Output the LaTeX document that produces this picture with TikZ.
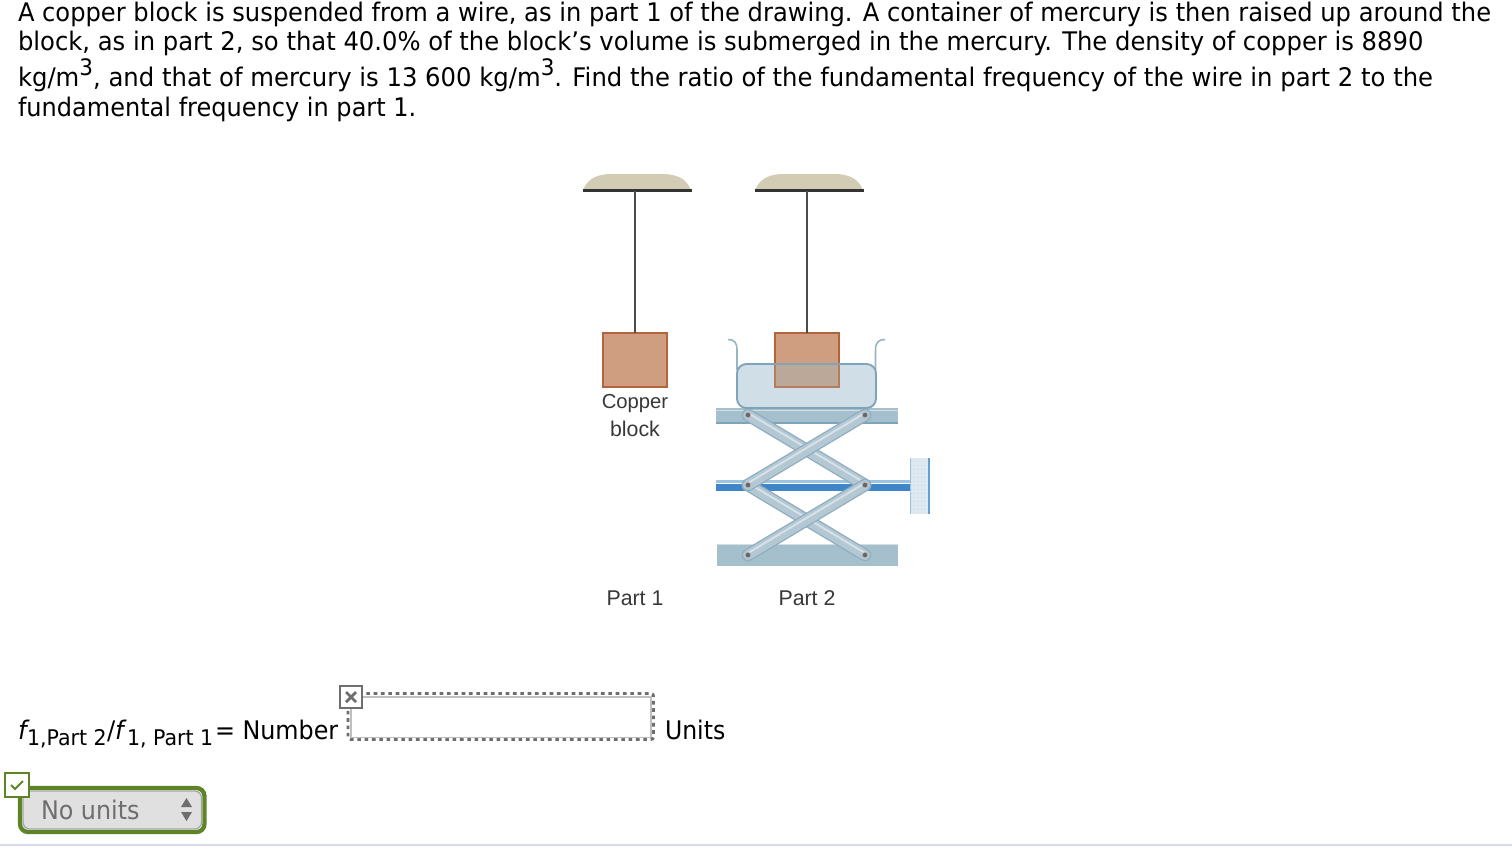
\documentclass[tikz,border=0pt]{standalone}
\usepackage{fontspec}
\usepackage{graphicx}
\setmainfont[FakeStretch=0.95]{DejaVu Sans}
\newfontfamily\labelfont{Liberation Sans}
\usetikzlibrary{calc}
\definecolor{ceil}{HTML}{D2CCB4}
\definecolor{copperfill}{HTML}{CF9E80}
\definecolor{copperedge}{HTML}{B4643C}
\definecolor{overlapfill}{HTML}{BCA898}
\definecolor{merc}{HTML}{D0DEE7}
\definecolor{mercedge}{HTML}{7FA3B8}
\definecolor{steel}{HTML}{A5BFCC}
\definecolor{steeldk}{HTML}{7FA3B8}
\definecolor{armedge}{HTML}{8FAEC0}
\definecolor{armfill}{HTML}{B4C8D4}
\definecolor{bluebar}{HTML}{3F86C8}
\definecolor{bluelt}{HTML}{9CC4E4}
\definecolor{wallfill}{HTML}{DFE8EE}
\definecolor{olive}{HTML}{5F8428}
\definecolor{uigray}{HTML}{6E6E6E}
\definecolor{rulecol}{HTML}{D3DCE5}
\tikzset{
  x=0.75pt,y=-0.75pt,
  prose/.style={anchor=base west,inner sep=0pt,outer sep=0pt,font=\fontsize{19.2pt}{23pt}\selectfont,text=black},
  subs/.style={prose,font=\fontsize{16.2pt}{18pt}\selectfont},
  figlabel/.style={anchor=base,inner sep=0pt,font=\labelfont\fontsize{16pt}{20pt}\selectfont,text=black!78},
  wire/.style={draw=black!70,line width=1.9pt},
  plate/.style={draw=black!80,line width=1.8pt},
  arm/.style={line cap=round,line width=9.5pt,draw=armedge},
  armin/.style={line cap=round,line width=7.5pt,draw=armfill},
  armhi/.style={line cap=round,line width=1.5pt,draw=white!45!armfill},
  pivot/.style={circle,fill=black!60,draw=white!70!black,line width=0.4pt,inner sep=0pt,minimum size=4pt},
  blockbox/.style={draw=copperedge,fill=copperfill,line width=1.3pt,minimum width=48pt,minimum height=40.5pt,inner sep=0pt,outer sep=0pt,anchor=north west},
}
\newcommand{\ceilingat}[1]{%
  \fill[ceil] (#1-54,190) .. controls (#1-50,181) and (#1-44,175) .. (#1-28,174)
     -- (#1+28,174) .. controls (#1+44,175) and (#1+50,181) .. (#1+54,190) -- cycle;
  \draw[plate] (#1-54.5,190.5) -- (#1+54.5,190.5);}
\newcommand{\supthree}{\raisebox{0.42em}{\fontsize{17pt}{18pt}\selectfont 3}}
\begin{document}
\begin{tikzpicture}
\useasboundingbox (0,0) rectangle (1512,858);
\fill[white] (0,0) rectangle (1512,858);
% problem text
\node[prose] (l1) at (18,21) {\scalebox{0.994}[1]{A copper block is suspended from a wire, as in part 1 of the drawing. A container of mercury is then raised up around the}};
\node[prose] (l2) at (18,50) {\scalebox{0.998}[1]{block, as in part 2, so that 40.0\% of the block’s volume is submerged in the mercury. The density of copper is 8890}};
\node[prose] (l3) at (18,86) {kg/m\supthree, and that of mercury is 13 600 kg/m\supthree. Find the ratio of the fundamental frequency of the wire in part 2 to the};
\node[prose] (l4) at (18,116) {\scalebox{0.988}[1]{fundamental frequency in part 1.}};
% ceilings and wires
\ceilingat{637}
\ceilingat{809}
\coordinate (c1) at (635,191);
\coordinate (c2) at (807,191);
% part 1 block
\node[blockbox] (b1) at (603,333) {};
\draw[wire] (c1) -- (b1.north);
% part 2: platforms
\fill[steel] (716,408) rectangle (898,423.5);
\draw[steeldk,line width=1.2pt] (716,423) -- (898,423);
\draw[white!50!steel,line width=1pt] (716,410.5) -- (898,410.5);
\fill[steel] (717,544) rectangle (898,566);
\draw[white!50!steel,line width=1pt] (717,544.5) -- (898,544.5);
% blue bar
\fill[bluelt] (716,480) rectangle (911,482.5);
\fill[bluebar] (716,484) rectangle (911,491);
% wall
\fill[wallfill] (910,458) rectangle (929,514);
\foreach \yy in {461,465,...,512}{\draw[bluelt!60!white,line width=0.5pt,dotted] (911,\yy) -- (928,\yy);}
\draw[bluebar!80!white,line width=1.5pt] (929,458) -- (929,514);
\draw[bluelt,line width=0.8pt] (910.5,458) -- (910.5,514);
% scissors
\coordinate (tl) at (748,415);
\coordinate (tr) at (865,415);
\coordinate (ml) at (748,485);
\coordinate (mr) at (865,485);
\coordinate (bl) at (748,555);
\coordinate (br) at (865,555);
\foreach \a/\b in {tl/mr,ml/br,tr/ml,mr/bl}{
  \draw[arm] (\a) -- (\b);
  \draw[armin] (\a) -- (\b);
  \draw[armhi] ($(\a)+(0,-2)$) -- ($(\b)+(0,-2)$);
}
\foreach \p in {tl,tr,ml,mr,bl,br}{\node[pivot] (pv\p) at (\p) {};}
% container
\draw[mercedge!80!white,line width=1.2pt] (728,339.5) .. controls (734,339.5) and (737,342) .. (737,350) -- (737,370);
\draw[mercedge!80!white,line width=1.2pt] (885,339.5) .. controls (879,339.5) and (875.5,342) .. (875.5,350) -- (875.5,370);
% part 2 block
\node[blockbox] (b2) at (775,333) {};
\draw[wire] (c2) -- (b2.north);
% mercury
\draw[draw=mercedge,fill=merc,line width=1.4pt,rounded corners=7pt] (737,364) rectangle (876,408);
\fill[overlapfill] (775,364.5) rectangle (839,387);
\draw[draw=copperedge!65!overlapfill,line width=1pt] (775,365) -- (775,387) -- (839,387) -- (839,365);
% diagram captions
\node[figlabel,font=\labelfont\fontsize{15.2pt}{20pt}\selectfont] (t1) at (635,408) {Copper};
\node[figlabel] (t2) at (635,436) {block};
\node[figlabel] (t3) at (635,605) {Part 1};
\node[figlabel] (t4) at (807,605) {Part 2};
% answer row
\node[prose] (f1) at (18,739) {\textit{f}};
\node[subs] (s1) at (27,745) {1,Part 2};
\node[prose] (sl) at (107,739) {/\textit{f}};
\node[subs] (s2) at (127,745) {1, Part 1};
\node[prose] (eq) at (215,739) {\scalebox{0.98}[1]{= Number}};
\node[draw=black!25,line width=0.9pt,fill=white,minimum width=225pt,minimum height=30.5pt,inner sep=0pt,outer sep=0pt,anchor=north west] (inp) at (351,697) {};
\draw[uigray,line width=2.2pt,dash pattern=on 2.7pt off 2.8pt,rounded corners=2pt] (348,693.5) rectangle (653.5,739.5);
\node[draw=uigray,line width=1.6pt,fill=white,minimum width=17pt,minimum height=17pt,inner sep=0pt] (xb) at (351,697) {};
\draw[uigray,line width=2.1pt] (346,692) -- (356,702) (356,692) -- (346,702);
\node[prose] (un) at (665,739) {\scalebox{0.97}[1]{Units}};
% select
\draw[olive,line width=3.2pt,fill=white,rounded corners=6pt] (20,788) rectangle (204.5,832);
\draw[black!35,line width=1pt,fill=black!12,rounded corners=5pt] (23,791) rectangle (201.5,829);
\node[prose,text=uigray] (nu) at (41,819) {\scalebox{0.98}[1]{No units}};
\fill[uigray] (181,807) -- (192,807) -- (186.5,798) -- cycle;
\fill[uigray] (181,812) -- (192,812) -- (186.5,821) -- cycle;
\node[draw=olive,line width=1.6pt,fill=white,minimum width=17.5pt,minimum height=17.5pt,inner sep=0pt] (ck) at (17,785) {};
\draw[olive,line width=1.4pt] (11,785) -- (15,789) -- (23,781);
% bottom rule
\draw[rulecol,line width=1.5pt] (0,845) -- (1512,845);
\end{tikzpicture}
\end{document}
